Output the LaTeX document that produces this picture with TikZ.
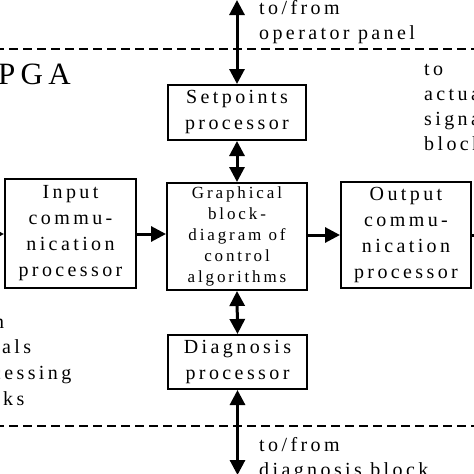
\documentclass[tikz,border=0pt]{standalone}
\usepackage{fontspec}
\setmainfont{Liberation Serif}[LetterSpace=17]
\usetikzlibrary{arrows.meta}
\begin{document}
\begin{tikzpicture}[x=1pt,y=-1pt,
  blk/.style={draw, line width=2pt, align=center, inner sep=0pt, font=\fontsize{20}{26}\selectfont},
  smallblk/.style={blk, font=\fontsize{17}{21}\selectfont},
  arr/.style={line width=3pt, -{Triangle[length=15pt,width=15pt]}},
  darr/.style={line width=3pt, {Triangle[length=15pt,width=15pt]}-{Triangle[length=15pt,width=15pt]}},
  dashline/.style={line width=2.2pt, dash pattern=on 9pt off 5pt},
  lbl/.style={anchor=base west, align=left, inner sep=0pt, font=\fontsize{20}{25}\selectfont}
]
\useasboundingbox (0,0) rectangle (474,474);
\clip (0,0) rectangle (474,474);

% dashed boundaries
\coordinate (dl1) at (-5,49);
\coordinate (dr1) at (480,49);
\coordinate (dl2) at (-5,426);
\coordinate (dr2) at (480,426);
\draw[dashline] (dl1) -- (dr1);
\draw[dashline] (dl2) -- (dr2);

% blocks
\node[blk, minimum width=138pt, minimum height=55pt] (sp) at (237,112.5) {Setpoints\\processor};
\node[smallblk, minimum width=140pt, minimum height=107pt] (ctr) at (237,236.5) {Graphical\\block-\\diagram of\\control\\algorithms};
\node[blk, minimum width=139pt, minimum height=54pt] (dg) at (237.5,362) {Diagnosis\\processor};
\node[blk, minimum width=131pt, minimum height=109pt] (in) at (70.5,233.5) {Input\\commu-\\nication\\processor};
\node[blk, minimum width=130pt, minimum height=106pt] (out) at (406,235) {Output\\commu-\\nication\\processor};

% labels (base anchor = baseline of the last line)
\node[anchor=base east, inner sep=0pt, font=\fontsize{31}{31}\selectfont] (fpga) at (71,84) {FPGA};
\node[lbl] (op) at (259,39) {to/from\\operator panel};
\node[lbl] (dgl) at (259,476) {to/from\\diagnosis block};
\node[lbl] (act) at (424,150) {to\\actuators\\signals\\blocks};
\node[lbl, font=\fontsize{20}{25.6}\selectfont] (sig) at (-45,405) {from\\signals\\processing\\blocks};

% connectors
\coordinate (topend) at (237,0);
\coordinate (botend) at (237.5,475);
\coordinate (leftend) at (-30,234);
\coordinate (rightend) at (510,235);
\draw[darr] (topend) -- (sp.north);
\draw[darr] (sp.south) -- (ctr.north);
\draw[darr] (ctr.south) -- (dg.north);
\draw[darr] (dg.south) -- (botend);
\draw[arr] (leftend) -- (in.west |- leftend);
\draw[arr] (in.east |- 0,234) -- (ctr.west |- 0,234);
\draw[arr] (ctr.east |- 0,235) -- (out.west |- 0,235);
\draw[arr] (out.east |- rightend) -- (rightend);
\end{tikzpicture}
\end{document}
